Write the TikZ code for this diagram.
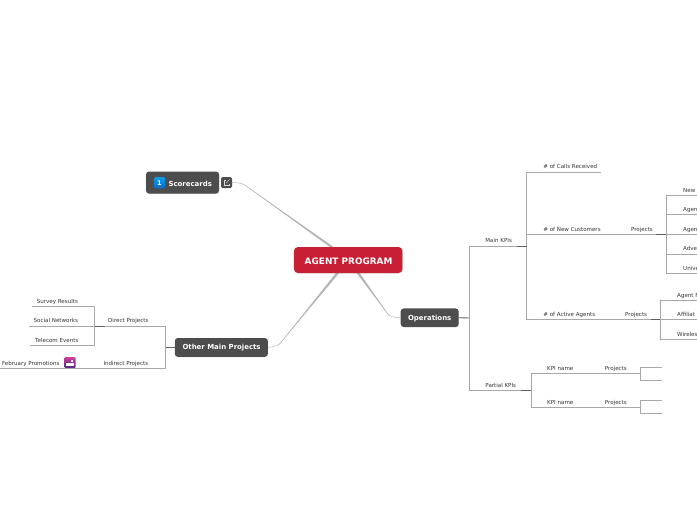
\documentclass[tikz,border=0pt]{standalone}
\usepackage{fontspec}
\usepackage{tikz}
\usetikzlibrary{backgrounds,shadows}
\setmainfont{DejaVu Sans}
\definecolor{rootred}{HTML}{C81F35}
\definecolor{boxgrey}{HTML}{4D4D4D}
\definecolor{twiggrey}{HTML}{A8A8A8}
\definecolor{boughgrey}{HTML}{B4B4B4}
\definecolor{ranktop}{HTML}{0A9BE8}
\definecolor{rankbottom}{HTML}{0A6CC8}
\definecolor{promotop}{HTML}{D13C97}
\definecolor{promobottom}{HTML}{4D2A82}
\tikzset{
	leaf/.style={right,inner sep=0pt,text height=4pt,text depth=1pt,text=black!80,font=\fontsize{5.55}{6}\selectfont},
	topicbox/.style={rectangle,rounded corners=3pt,fill=boxgrey,text=white,inner sep=0pt,font=\fontsize{6.95}{8}\selectfont\bfseries,drop shadow={opacity=.25,shadow xshift=.3pt,shadow yshift=-.6pt}},
	topictext/.style={inner sep=0pt,text=white,font=\fontsize{6.95}{8}\selectfont\bfseries},
	twig/.style={draw=twiggrey,line width=.9pt},
	stub/.style={draw=boxgrey!90,line width=.9pt},
	bough/.style={fill=boughgrey},
	thinbough/.style={draw=boughgrey!80,line width=.6pt,rounded corners=5pt}
}
\begin{document}
\begin{tikzpicture}[x=1pt,y=-1pt]
		\useasboundingbox (0,0) rectangle (697,520);
		% main topics
		\node [topicbox,fill=rootred,rounded corners=4pt,minimum width=108.5pt,minimum height=26pt] (root) at (348.2,260) {};
		\node [topictext,font=\fontsize{8.9}{10}\selectfont\bfseries] (roottext) at (348.6,261) {AGENT PROGRAM};
		\node [topicbox,minimum width=73pt,minimum height=22pt] (scorecards) at (182.5,182.5) {};
		\node [topictext,right] (scorecardstext) at (168.3,183.6) {Scorecards};
		\node [topicbox,minimum width=58pt,minimum height=18.5pt] (operations) at (429.7,317.7) {};
		\node [topictext] (operationstext) at (429.7,318.4) {Operations};
		\node [topicbox,minimum width=93pt,minimum height=18.8pt] (othermain) at (221.3,347.4) {};
		\node [topictext] (othermaintext) at (221.6,348.1) {Other Main Projects};
		% icons
		\node [rounded corners=1.5pt,minimum size=11.3pt,inner sep=0pt,top color=ranktop,bottom color=rankbottom,text=white,font=\fontsize{6.5}{7}\selectfont\bfseries] (rankicon) at (159.5,182.7) {1};
		\node [rounded corners=1.5pt,minimum size=11pt,inner sep=0pt,fill=boxgrey] (linkicon) at (226.5,182.5) {};
		\draw[white!85!black,line width=.4pt] (225.5,179.8) -- (223.8,179.8) -- (223.8,185.2) -- (229.2,185.2) -- (229.2,183.5);
		\draw[white!85!black,line width=.4pt] (226.3,183) -- (229.4,179.6);
		\node [rounded corners=1pt,minimum size=11pt,inner sep=0pt,top color=promotop,bottom color=promobottom] (promoicon) at (70,362.6) {};
		\fill[white] (65.8,363.3) rectangle (74.2,366);
		\fill[white] (70.6,359.6) rectangle (73.2,362.2);
		% boughs from the root
		\coordinate (scorecardsknee) at (242,183);
		\coordinate (scorecardsroot) at (336,250);
		\coordinate (operationsknee) at (390,317);
		\coordinate (operationsroot) at (356,270);
		\coordinate (othermainknee) at (278,346);
		\coordinate (othermainroot) at (340,270);
		\begin{scope}[on background layer]
		\draw[thinbough] (linkicon.east) -- (scorecardsknee) -- (scorecardsroot);
		\fill[bough] (scorecardsknee) -- ([xshift=-2pt]scorecardsroot) -- ([xshift=2pt]scorecardsroot) -- cycle;
		\draw[thinbough] (operations.west) -- (operationsknee) -- (operationsroot);
		\fill[bough] (operationsknee) -- ([xshift=-1.7pt]operationsroot) -- ([xshift=1.7pt]operationsroot) -- cycle;
		\draw[thinbough] (othermain.east) -- (othermainknee) -- (othermainroot);
		\fill[bough] (othermainknee) -- ([xshift=-1.7pt]othermainroot) -- ([xshift=1.7pt]othermainroot) -- cycle;
		\end{scope}
		% left side
		\coordinate (otherfork) at (165,347.4);
		\coordinate (directend) at (94.5,326);
		\coordinate (indirectend) at (0,368.7);
		\coordinate (surveyend) at (32,306);
		\coordinate (socialend) at (29,326);
		\coordinate (telecomend) at (30,345.4);
		\draw[stub] (othermain.west) -- (otherfork);
		\draw[twig] (otherfork) |- (directend);
		\draw[twig] (otherfork) |- (indirectend);
		\draw[twig] (directend) |- (surveyend);
		\draw[twig] (directend) -- (socialend);
		\draw[twig] (directend) |- (telecomend);
		\draw[stub] (directend) -- ++(10,0);
		\node [leaf] (survey) at (36.6,301.6) {Survey Results};
		\node [leaf] (social) at (33.5,320.6) {Social Networks};
		\node [leaf] (telecom) at (35,340.6) {Telecom Events};
		\node [leaf] (february) at (1.8,363.6) {February Promotions};
		\node [leaf] (direct) at (108,320.6) {Direct Projects};
		\node [leaf] (indirect) at (103.3,363.6) {Indirect Projects};
		% right side
		\coordinate (opsfork) at (469,318);
		\coordinate (mainfork) at (526.5,246);
		\coordinate (partialfork) at (531,390.4);
		\coordinate (callsend) at (601,172);
		\coordinate (newfork) at (666.4,234.2);
		\coordinate (activefork) at (660.8,319.6);
		\coordinate (kpionefork) at (640.7,373.8);
		\coordinate (kpitwofork) at (640.7,407);
		\draw[stub] (operations.east) -- (opsfork);
		\draw[twig] (opsfork) |- (mainfork);
		\draw[twig] (opsfork) |- (partialfork);
		\draw[twig] (mainfork) |- (callsend);
		\draw[twig] (mainfork) |- (newfork);
		\draw[twig] (mainfork) |- (activefork);
		\draw[stub] (mainfork) -- ++(-10,0);
		\draw[stub] (partialfork) -- ++(-10,0);
		\draw[stub] (newfork) -- ++(-10,0);
		\draw[stub] (activefork) -- ++(-10,0);
		\draw[stub] (kpionefork) -- ++(-10,0);
		\draw[stub] (kpitwofork) -- ++(-10,0);
		\draw[twig] (partialfork) |- (kpionefork);
		\draw[twig] (partialfork) |- (kpitwofork);
		\draw[twig] (newfork) |- (697,195.3);
		\draw[twig] (newfork) |- (697,214.4);
		\draw[twig] (newfork) -- (697,234.2);
		\draw[twig] (newfork) |- (697,254);
		\draw[twig] (newfork) |- (697,273.3);
		\draw[twig] (activefork) |- (697,300);
		\draw[twig] (activefork) -- (697,319.6);
		\draw[twig] (activefork) |- (697,339.4);
		\draw[twig] (kpionefork) |- (662,367.4);
		\draw[twig] (kpionefork) |- (662,380);
		\draw[twig] (kpitwofork) |- (662,400.7);
		\draw[twig] (kpitwofork) |- (662,413.7);
		\node [leaf] (mainkpis) at (485.2,240.6) {Main KPIs};
		\node [leaf] (partialkpis) at (485.2,385.6) {Partial KPIs};
		\node [leaf] (calls) at (543.2,166.6) {\# of Calls Received};
		\node [leaf] (newcust) at (543.2,229.6) {\# of New Customers};
		\node [leaf] (active) at (543.2,314.6) {\# of Active Agents};
		\node [leaf] (newprojects) at (630.8,229.6) {Projects};
		\node [leaf] (activeprojects) at (625,314.6) {Projects};
		\node [leaf] (kpione) at (547,368.6) {KPI name};
		\node [leaf] (kpitwo) at (547,402.6) {KPI name};
		\node [leaf] (kpioneprojects) at (604.7,368.6) {Projects};
		\node [leaf] (kpitwoprojects) at (604.7,402.6) {Projects};
		\node [leaf] (leafnew) at (683,190.6) {New};
		\node [leaf] (leafagena) at (683,209.6) {Agen};
		\node [leaf] (leafagenb) at (683,229.6) {Agen};
		\node [leaf] (leafadve) at (683,248.6) {Adve};
		\node [leaf] (leafunive) at (683,268.6) {Unive};
		\node [leaf] (leafagent) at (677,295.6) {Agent F};
		\node [leaf] (leafaffil) at (677,314.6) {Affiliat};
		\node [leaf] (leafwire) at (677,334.6) {Wireles};
		\end{tikzpicture}
\end{document}
